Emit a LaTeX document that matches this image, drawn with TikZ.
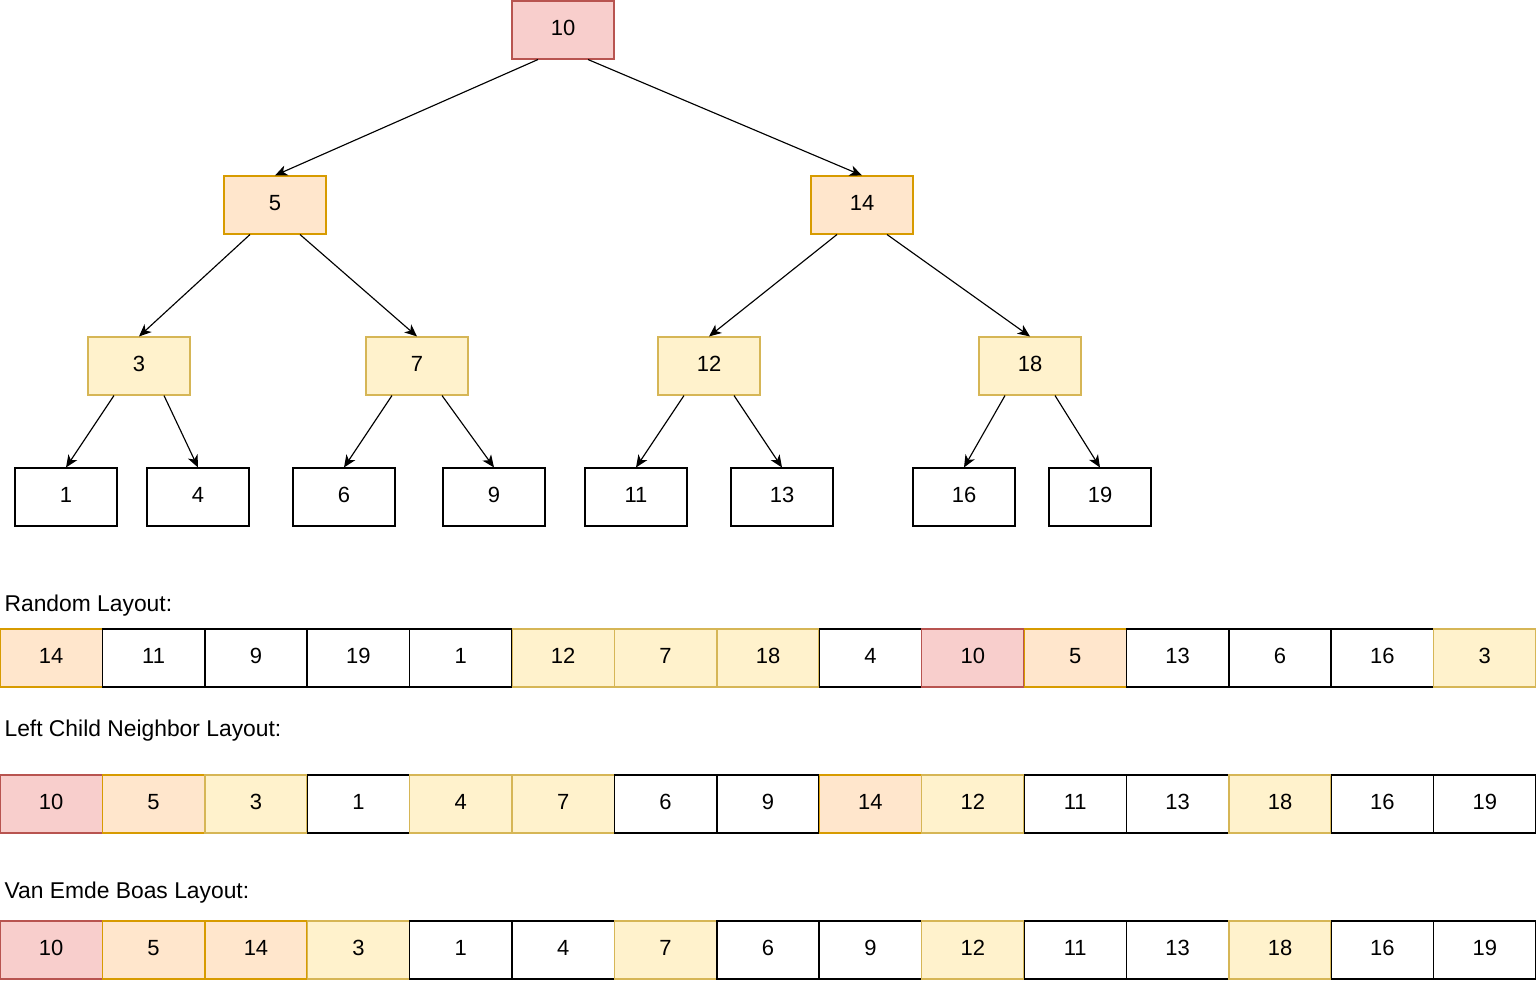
\documentclass[tikz,border=0pt]{standalone}
\usepackage{fontspec}
\setmainfont{Liberation Sans}
\usetikzlibrary{arrows.meta}
\definecolor{rootfill}{HTML}{F8CECC}
\definecolor{rootline}{HTML}{B85450}
\definecolor{midfill}{HTML}{FFE6CC}
\definecolor{midline}{HTML}{D79B00}
\definecolor{lowfill}{HTML}{FFF2CC}
\definecolor{lowline}{HTML}{D6B656}
\tikzset{
  cell/.style={draw, line width=0.6pt, minimum width=2.04cm, minimum height=1.16cm,
    inner sep=0pt, text depth=2.3pt, font=\fontsize{12.5}{15}\selectfont},
  lv0/.style={cell, fill=rootfill, draw=rootline},
  lv1/.style={cell, fill=midfill, draw=midline},
  lv2/.style={cell, fill=lowfill, draw=lowline},
  lv3/.style={cell, fill=white, draw=black},
  rowlabel/.style={anchor=west, inner sep=0pt, font=\fontsize{13}{15}\selectfont},
}

\begin{document}
\begin{tikzpicture}[x=0.02cm, y=-0.02cm, >={Stealth[length=7pt,width=6pt,inset=2pt]}, line width=0.65pt]
    \useasboundingbox (0,0) rectangle (1536,982);
    % tree
    \node[lv0] (n10) at (563,30) {10};
    \node[lv1] (n5) at (275,205) {5};
    \node[lv1] (n14) at (862,205) {14};
    \node[lv2] (n3) at (139,366) {3};
    \node[lv2] (n7) at (417,366) {7};
    \node[lv2] (n12) at (709,366) {12};
    \node[lv2] (n18) at (1030,366) {18};
    \node[lv3] (n1) at (66,497) {1};
    \node[lv3] (n4) at (198,497) {4};
    \node[lv3] (n6) at (344,497) {6};
    \node[lv3] (n9) at (494,497) {9};
    \node[lv3] (n11) at (636,497) {11};
    \node[lv3] (n13) at (782,497) {13};
    \node[lv3] (n16) at (964,497) {16};
    \node[lv3] (n19) at (1100,497) {19};
    \path[->] ([xshift=-0.5cm]n10.south) edge (n5.north) ([xshift=0.5cm]n10.south) edge (n14.north);
    \path[->] ([xshift=-0.5cm]n5.south) edge (n3.north) ([xshift=0.5cm]n5.south) edge (n7.north);
    \path[->] ([xshift=-0.5cm]n14.south) edge (n12.north) ([xshift=0.5cm]n14.south) edge (n18.north);
    \path[->] ([xshift=-0.5cm]n3.south) edge (n1.north) ([xshift=0.5cm]n3.south) edge (n4.north);
    \path[->] ([xshift=-0.5cm]n7.south) edge (n6.north) ([xshift=0.5cm]n7.south) edge (n9.north);
    \path[->] ([xshift=-0.5cm]n12.south) edge (n11.north) ([xshift=0.5cm]n12.south) edge (n13.north);
    \path[->] ([xshift=-0.5cm]n18.south) edge (n16.north) ([xshift=0.5cm]n18.south) edge (n19.north);
    % layouts
    \node[rowlabel] (lrand) at (4,606) {Random Layout:};
    \foreach \v/\s [count=\i from 0] in {14/lv1, 11/lv3, 9/lv3, 19/lv3, 1/lv3, 12/lv2, 7/lv2, 18/lv2,
        4/lv3, 10/lv0, 5/lv1, 13/lv3, 6/lv3, 16/lv3, 3/lv2}
      \node[\s] (a\i) at (51.2+102.4*\i,658) {\v};
    \node[rowlabel] (llcn) at (4,731) {Left Child Neighbor Layout:};
    \foreach \v/\s [count=\i from 0] in {10/lv0, 5/lv1, 3/lv2, 1/lv3, 4/lv2, 7/lv2, 6/lv3, 9/lv3,
        14/lv1, 12/lv2, 11/lv3, 13/lv3, 18/lv2, 16/lv3, 19/lv3}
      \node[\s] (b\i) at (51.2+102.4*\i,804) {\v};
    \node[rowlabel] (lveb) at (4,893) {Van Emde Boas Layout:};
    \foreach \v/\s [count=\i from 0] in {10/lv0, 5/lv1, 14/lv1, 3/lv2, 1/lv3, 4/lv3, 7/lv2, 6/lv3,
        9/lv3, 12/lv2, 11/lv3, 13/lv3, 18/lv2, 16/lv3, 19/lv3}
      \node[\s] (c\i) at (51.2+102.4*\i,950) {\v};
\end{tikzpicture}
\end{document}
